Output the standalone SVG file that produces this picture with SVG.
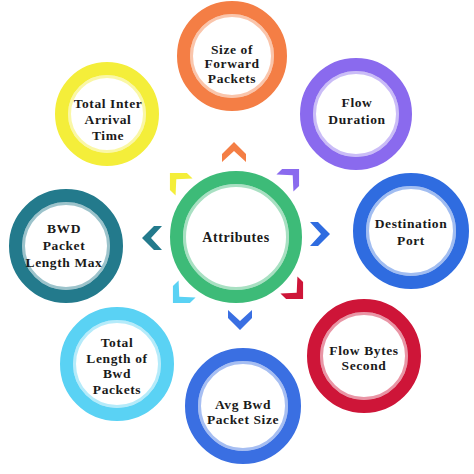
<svg xmlns="http://www.w3.org/2000/svg" width="474" height="474" viewBox="0 0 474 474">
<defs>
<style>
.t{font-family:"Liberation Serif","Times New Roman",serif;font-weight:bold;font-size:13.5px;fill:#1a1a1a;text-anchor:middle;letter-spacing:0.6px}
.ring{fill:#fff;stroke-width:13}
.inner{fill:none;stroke-width:3;stroke-opacity:0.45}
</style>
<polygon id="chev" points="-12,2 0,-10 12,2 12,10 0,-1 -12,10"/>
</defs>
<rect width="474" height="474" fill="#fff"/>
<g id="connectors">
<use href="#chev" transform="translate(234,152)" fill="#F47E45"/>
<use href="#chev" transform="translate(292,176) rotate(45)" fill="#8A6AEE"/>
<use href="#chev" transform="translate(320,234) rotate(90)" fill="#2F6CE0"/>
<use href="#chev" transform="translate(296,292) rotate(135)" fill="#CE1538"/>
<use href="#chev" transform="translate(240,320) rotate(180)" fill="#3A6FE2"/>
<use href="#chev" transform="translate(180,296) rotate(225)" fill="#5AD2F4"/>
<use href="#chev" transform="translate(152,238) rotate(270)" fill="#237A8C"/>
<use href="#chev" transform="translate(177,180) rotate(315)" fill="#F4EE3A"/>
</g>
<g id="center">
<circle cx="236" cy="237" r="59.5" class="ring" stroke="#3DBB78"/>
<circle cx="236" cy="237" r="51.5" class="inner" stroke="#3DBB78"/>
<text class="t" x="236" y="242" style="font-size:14px">Attributes</text>
</g>
<g id="n-size">
<circle cx="232" cy="56" r="48.5" class="ring" stroke="#F47E45"/>
<circle cx="232" cy="56" r="40.5" class="inner" stroke="#F47E45"/>
<text class="t" x="232" y="54">Size of</text>
<text class="t" x="232" y="68">Forward</text>
<text class="t" x="232" y="83">Packets</text>
</g>
<g id="n-flowdur">
<circle cx="356" cy="114" r="49.5" class="ring" stroke="#8A6AEE"/>
<circle cx="356" cy="114" r="41.5" class="inner" stroke="#8A6AEE"/>
<text class="t" x="357" y="107">Flow</text>
<text class="t" x="357" y="124">Duration</text>
</g>
<g id="n-dest">
<circle cx="411" cy="231" r="51.5" class="ring" stroke="#2F6CE0"/>
<circle cx="411" cy="231" r="43.5" class="inner" stroke="#2F6CE0"/>
<text class="t" x="411" y="228">Destination</text>
<text class="t" x="411" y="245">Port</text>
</g>
<g id="n-bytes">
<circle cx="364" cy="356" r="50.5" class="ring" stroke="#CE1538"/>
<circle cx="364" cy="356" r="42.5" class="inner" stroke="#CE1538"/>
<text class="t" x="364" y="355">Flow Bytes</text>
<text class="t" x="364" y="370">Second</text>
</g>
<g id="n-avg">
<circle cx="243" cy="406" r="51.5" class="ring" stroke="#3A6FE2"/>
<circle cx="243" cy="406" r="43.5" class="inner" stroke="#3A6FE2"/>
<text class="t" x="243" y="409">Avg Bwd</text>
<text class="t" x="243" y="424">Packet Size</text>
</g>
<g id="n-total">
<circle cx="117" cy="364" r="50.5" class="ring" stroke="#5AD2F4"/>
<circle cx="117" cy="364" r="42.5" class="inner" stroke="#5AD2F4"/>
<text class="t" x="117" y="347">Total</text>
<text class="t" x="117" y="363">Length of</text>
<text class="t" x="117" y="378">Bwd</text>
<text class="t" x="117" y="394">Packets</text>
</g>
<g id="n-bwd">
<circle cx="66" cy="246" r="50.5" class="ring" stroke="#237A8C"/>
<circle cx="66" cy="246" r="42.5" class="inner" stroke="#237A8C"/>
<text class="t" x="64" y="233">BWD</text>
<text class="t" x="64" y="250">Packet</text>
<text class="t" x="64" y="267">Length Max</text>
</g>
<g id="n-inter">
<circle cx="107" cy="114" r="45.5" class="ring" stroke="#F4EE3A"/>
<circle cx="107" cy="114" r="37.5" class="inner" stroke="#F4EE3A"/>
<text class="t" x="108" y="108">Total Inter</text>
<text class="t" x="108" y="124">Arrival</text>
<text class="t" x="108" y="140">Time</text>
</g>
</svg>
